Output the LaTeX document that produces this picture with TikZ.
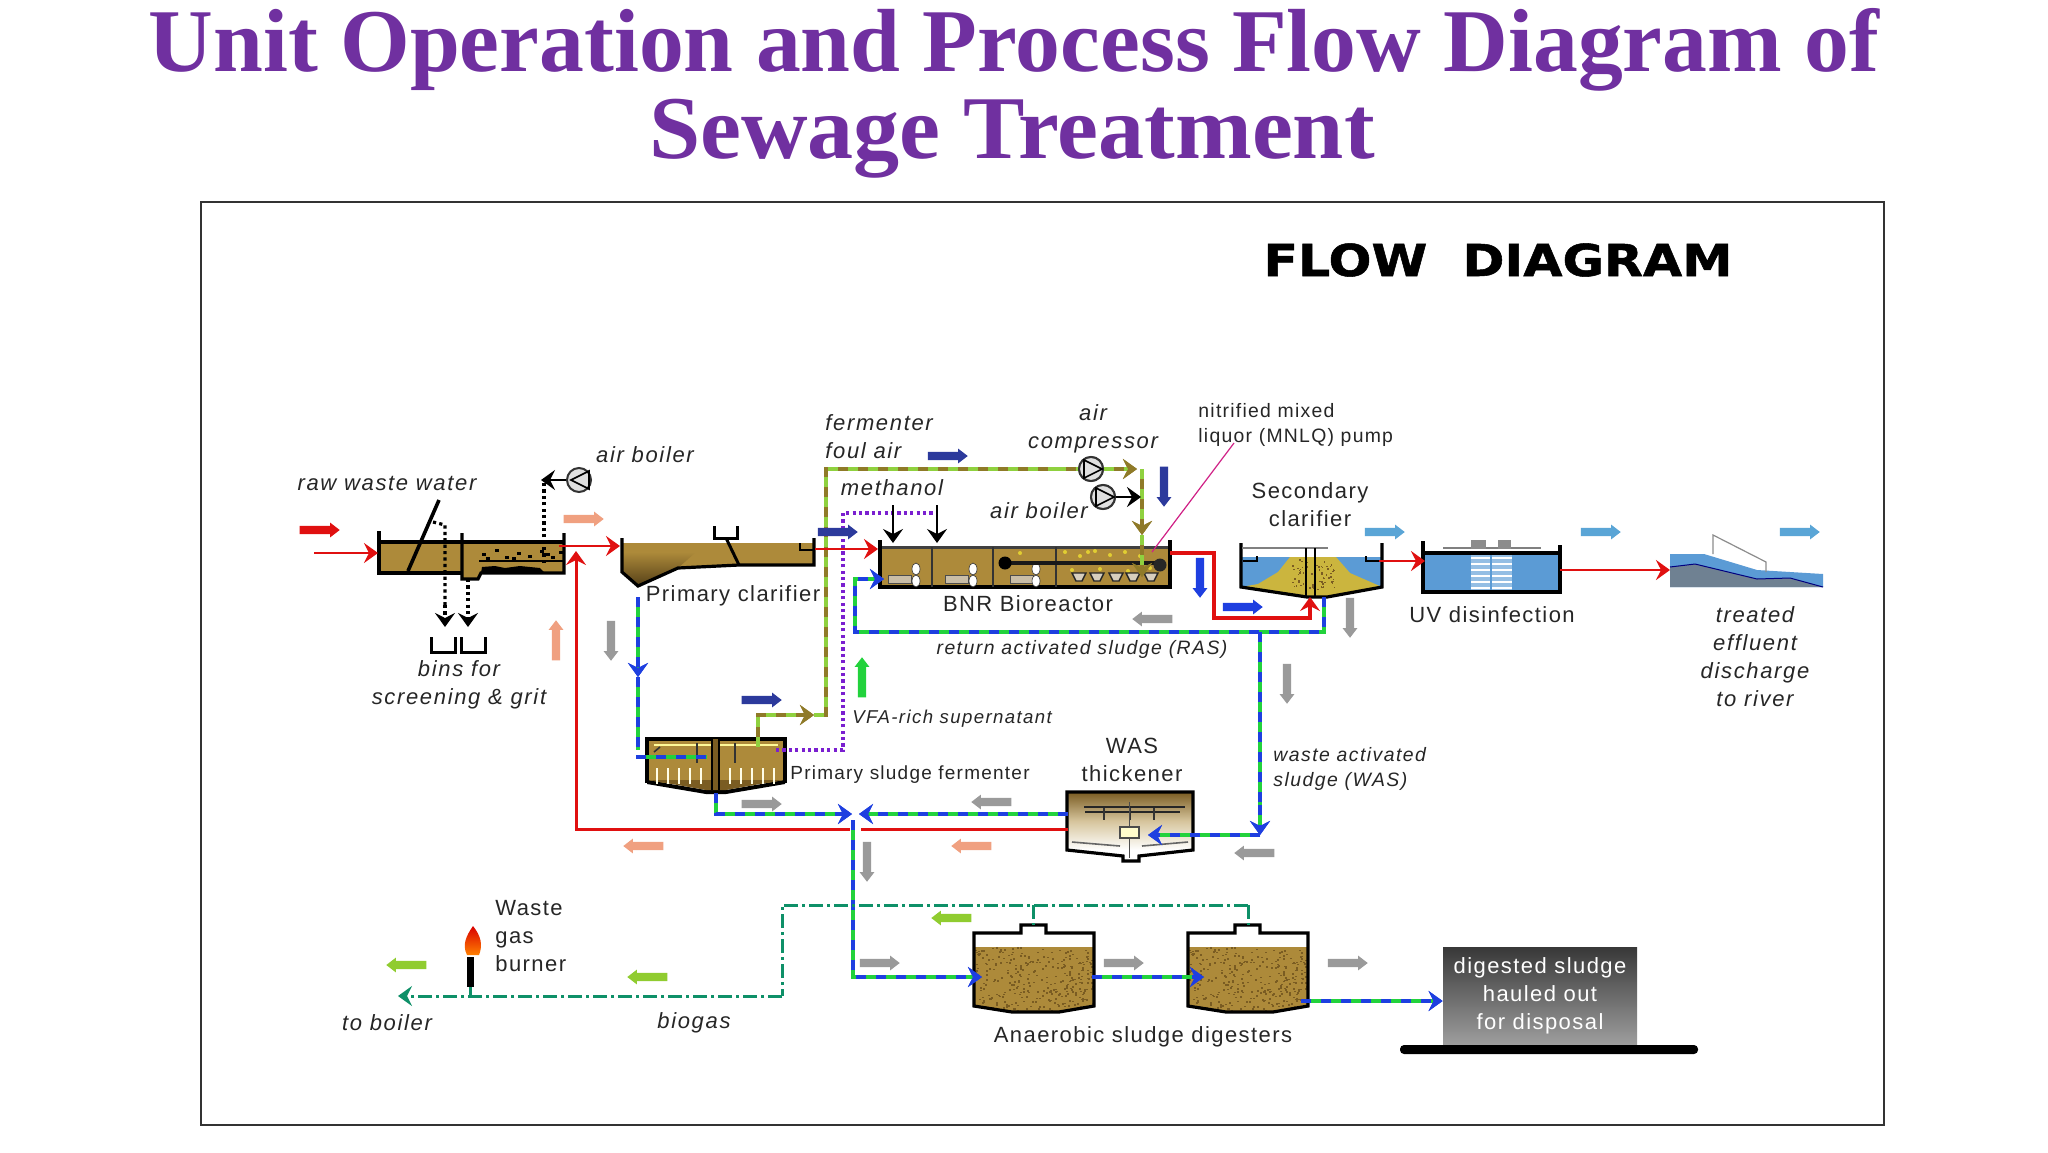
\documentclass[tikz,border=0pt]{standalone}
\usepackage{fontspec}
\usetikzlibrary{arrows.meta,shapes.arrows,shapes.geometric}
\setmainfont{Liberation Sans}
\newfontfamily\lab{Liberation Sans}[LetterSpace=6.5]
\newfontfamily\labi{Liberation Sans Italic}[LetterSpace=7.5]
\newfontfamily\ttl{Liberation Serif}
\newfontfamily\ttlw{Liberation Serif}[FakeStretch=1.028]
\newfontfamily\flw{DejaVu Sans Bold}[FakeStretch=1.15,FakeBold=1.2]
\definecolor{bro}{HTML}{AD8A3A}
\definecolor{brd}{HTML}{7A5C22}
\definecolor{bfl}{HTML}{8F7A28}
\definecolor{lgr}{HTML}{8FD13F}
\definecolor{gre}{HTML}{22D23C}
\definecolor{blu}{HTML}{1E3FE0}
\definecolor{redd}{HTML}{E01010}
\definecolor{sal}{HTML}{F0A080}
\definecolor{nav}{HTML}{2C3A9C}
\definecolor{gry}{HTML}{9A9A9A}
\definecolor{lbl}{HTML}{5AA5D6}
\definecolor{ygr}{HTML}{90CC30}
\definecolor{wat}{HTML}{5B9BD5}
\definecolor{teal}{HTML}{0E9068}
\definecolor{pur}{HTML}{7A1FD0}
\definecolor{ttc}{HTML}{7030A0}
\definecolor{riv}{HTML}{6F8192}
\tikzset{
 tip/.style={-{Stealth[length=7pt,width=10pt,inset=2.5pt,#1]}},
 red line/.style={draw=redd,line width=1.1pt,tip=redd},
 sludge/.style={draw=gre,line width=1.6pt,postaction={draw=blu,dash pattern=on 5pt off 5pt}},
 gas/.style={draw=bfl,line width=1.6pt,postaction={draw=lgr,dash pattern=on 5pt off 5pt}},
 biog/.style={draw=teal,line width=1.5pt,dash pattern=on 7pt off 2pt on 1.5pt off 2pt},
 dots/.style={line width=1.6pt,dash pattern=on 1.6pt off 1.6pt},
 tank/.style={draw=black,line width=1.6pt,line join=miter},
 fa/.style={shape=single arrow,draw=none,inner sep=1.9pt,minimum height=20pt,single arrow head extend=1.6pt,single arrow tip angle=75,shape border rotate=#1},
 lb/.style={font=\lab\fontsize{11}{14}\selectfont,inner sep=0pt,align=center,text=black!85},
 il/.style={font=\labi\fontsize{11}{14}\selectfont,inner sep=0pt,align=center,text=black!85},
 sm/.style={font=\lab\fontsize{9.5}{12.5}\selectfont,inner sep=0pt,align=left,text=black!85},
 ism/.style={font=\labi\fontsize{9.7}{12.5}\selectfont,inner sep=0pt,align=left,text=black!85},
 pump/.style={circle,draw=black!80,fill=black!12,line width=1pt,minimum size=12pt,inner sep=0pt},
}
\begin{document}
\begin{tikzpicture}[x=0.5pt,y=-0.5pt]
\path[use as bounding box,fill=white] (0,0) rectangle (2048,1152);
% title
\node[font=\ttl\bfseries\fontsize{44.8}{44.8}\selectfont,text=ttc,inner sep=0pt] (t1) at (1014,50) {Unit Operation and Process Flow Diagram of};
\node[font=\ttlw\bfseries\fontsize{44.8}{44.8}\selectfont,text=ttc,inner sep=0pt] (t2) at (1012,139) {Sewage Treatment};
\node[draw=black!80,line width=.6pt,minimum width=841.5pt,minimum height=461.5pt,inner sep=0pt] (frame) at (1042.5,663.5) {};
\node[font=\flw\fontsize{22}{22}\selectfont,inner sep=0pt] (fd) at (1498,260) {FLOW\ \ DIAGRAM};

%% coordinates
\coordinate (inA) at (314,553); \coordinate (inB) at (378,553);
\coordinate (t1o) at (559,546); \coordinate (clI) at (620,546);
\coordinate (clO) at (815,549); \coordinate (bnI) at (878,549);
\coordinate (retA) at (1068,829); \coordinate (retB) at (861,829); \coordinate (retC) at (850,829); \coordinate (retD) at (576,829); \coordinate (retE) at (576,551);
\coordinate (mlA) at (1170,553); \coordinate (mlB) at (1214,553); \coordinate (mlC) at (1214,618); \coordinate (mlD) at (1310,618); \coordinate (mlE) at (1310,597);
\coordinate (c2o) at (1379,561); \coordinate (uvI) at (1425,561);
\coordinate (uvO) at (1560,570); \coordinate (rivI) at (1670,570);

%% screen & grit tank
\fill[bro] (379,542) rectangle (564,573);
\fill[bro] (462,573) -- (462,579) -- (478,579) -- (481,573) -- cycle;
\draw[tank] (379,531) -- (379,573) -- (462,573);
\draw[tank] (379,542) -- (564,542);
\draw[tank] (564,533) -- (564,573) -- (481,573) -- (478,579) -- (462,579) -- (462,533);
\draw[line width=1.8pt] (408,571) -- (439,500);
\fill[black] (481,573) -- (482,567) -- (495,566) -- (505,568) -- (520,566) -- (540,568) -- (545,573) -- cycle;
\draw[line width=1.1pt] (479,561) -- (564,561);
\foreach \a/\b in {482/553,495/549,505/556,517/552,528/555,540/550,551/556,559/551,486/557,512/557,546/553}
  \fill[black] (\a,\b) rectangle ++(4,3);
\coordinate (scrA) at (433,522); \coordinate (scrB) at (445,525); \coordinate (scrC) at (445,627);
\coordinate (grA) at (468,579); \coordinate (grB) at (468,627);
\draw[dots] (scrA) -- (scrB) -- (445,605);
\draw[dots,tip=black] (445,605) -- (scrC);
\draw[dots,tip=black] (grA) -- (grB);
\draw[line width=1.5pt] (431,637) -- (431,652) -- (455,652) -- (455,637);
\draw[line width=1.5pt] (461,637) -- (461,652) -- (485,652) -- (485,637);
% air boiler pump 1
\node[pump] (p1) at (579,480) {};
\draw[line width=.8pt] (p1.center) ++(10,-9) -- ++(-18,9) -- ++(18,9) -- cycle;
\coordinate (airA) at (544,563); \coordinate (airB) at (544,482);
\draw[dots] (airA) -- (airB);
\draw[line width=1.2pt,tip=black] (p1.west) -- (541,480);

%% primary clarifier
\fill[bro] (622,543) -- (622,572) -- (638,586) -- (678,568) -- (739,565) -- (814,565) -- (814,543) -- cycle;
\shade[top color=bro,bottom color=brd!70!black] (622,552) -- (622,572) -- (638,586) -- (678,568) -- (696,552) -- cycle;
\draw[tank] (622,538) -- (622,572) -- (638,586) -- (678,568) -- (739,565) -- (814,565) -- (814,538);
\draw[line width=1.5pt] (714,526) -- (714,538) -- (737,538) -- (737,526);
\draw[line width=1.5pt] (726,538) -- (739,565);
\draw[line width=1.2pt] (800,543) -- (800,550) -- (814,550);

%% fermenter
\fill[bro] (647,739) rectangle (785,783);
\fill[black] (647,780) -- (647,784) -- (706,794) -- (726,794) -- (785,784) -- (785,780) -- (726,790) -- (706,790) -- cycle;
\fill[brd] (649,780) -- (706,790) -- (726,790) -- (783,780) -- cycle;
\foreach \a in {657,668,679,690,701,730,741,752,763,774}
  \draw[white!90!yellow,line width=.7pt] (\a,768) -- (\a,784);
\draw[tank] (647,783) -- (647,739) -- (785,739) -- (785,783);
\fill[yellow!40!white] (654,744) rectangle (778,746);
\draw[line width=.8pt,black!80] (654,752) -- (660,747);
\draw[line width=1pt,black!80] (697,743) -- (697,763);
\draw[line width=1pt,black!80] (735,743) -- (735,763);
\fill[brd] (712,739) rectangle (719,790);
\draw[line width=.6pt] (712,739) -- (712,790) (719,739) -- (719,790);

%% BNR bioreactor
\node[fill=bro,minimum width=145pt,minimum height=20pt,inner sep=0pt] (bnr) at (1025,567) {};
\draw[black!75,line width=1.5pt] (880,547) -- (1170,547);
\draw[line width=1.6pt] (880,540) -- (880,587) -- (1170,587) -- (1170,540);
\foreach \a in {932,993,1056} \draw[black!80,line width=.8pt] (\a,547) -- (\a,587);
\foreach \a/\b in {888/916,945/973,1010/1036}{
  \fill[brd!40!white] (\a,575) rectangle ++(23,8);
  \draw[black!70,line width=.4pt] (\a,575) rectangle ++(23,8);
  \fill[white,draw=black!80,line width=.3pt] (\b,569) ellipse [x radius=4,y radius=6];
  \fill[white,draw=black!80,line width=.3pt] (\b,581) ellipse [x radius=4,y radius=6];
}
\foreach \a/\b in {1065/552,1080/556,1095/551,1110/555,1125/552,1140/556,1072/570,1100/569,1128/571,1150/568,1088/552,1020/553}
  \fill[yellow!60!bro] (\a,\b) circle (2);
\draw[black!90,line width=2pt] (1005,563) -- (1160,563);
\fill[black] (1005,563) circle (6.5); \fill[black!85] (1160,565) circle (6.5);
\foreach \a in {1079,1097,1116,1133,1151}{
  \fill[brd!30!white,draw=black!85,line width=.7pt] (\a-7,573) -- (\a+7,573) -- (\a+3,581) -- (\a-3,581) -- cycle;
}

%% secondary clarifier
\fill[wat] (1241,557) -- (1382,557) -- (1382,587) -- (1241,587) -- cycle;
\fill[bro!70!yellow!90!white] (1241,587) -- (1258,584) -- (1278,572) -- (1290,557) -- (1336,557) -- (1350,573) -- (1382,587) -- (1327,597) -- (1307,597) -- cycle;
\pgfmathsetseed{99}
\foreach \i in {1,...,70}{
  \pgfmathsetmacro\xa{1292+rnd*42}\pgfmathsetmacro\ya{559+rnd*30}
  \fill[brd] (\xa,\ya) rectangle ++(1.6,1.4);
}
\draw[tank] (1241,543) -- (1241,587) -- (1307,597) -- (1327,597) -- (1382,587) -- (1382,543);
\draw[black!50,line width=1.2pt] (1242,548) -- (1328,548);
\draw[line width=.9pt] (1306,548) -- (1306,597) (1315,548) -- (1315,597);
\draw[line width=1.2pt] (1243,561) -- (1257,561) -- (1257,556);
\draw[line width=1.2pt] (1382,561) -- (1366,561) -- (1366,556);

%% UV
\node[fill=wat,minimum width=68.5pt,minimum height=19.5pt,inner sep=0pt] (uv) at (1491.5,572.5) {};
\fill[white!35!wat] (1471,555) rectangle (1512,590);
\foreach \b in {558,564,570,576,582,588} \draw[white,line width=.6pt] (1471,\b) -- (1512,\b);
\draw[wat,line width=1pt] (1491,555) -- (1491,590);
\draw[black!50,line width=.8pt] (1443,548) -- (1541,548);
\fill[black!45] (1471,540) rectangle (1486,549); \fill[black!45] (1498,540) rectangle (1511,549);
\draw[tank] (1423,541) -- (1423,592) -- (1560,592) -- (1560,545);
\draw[tank] (1423,553) -- (1560,553);

%% river
\fill[wat] (1670,554) -- (1704,554) -- (1757,570) -- (1823,574) -- (1823,587) -- (1670,587) -- cycle;
\fill[riv] (1670,567) -- (1695,564) -- (1757,579) -- (1790,578) -- (1823,587) -- (1670,587) -- cycle;
\draw[blue!50!black,line width=.5pt] (1670,567) -- (1695,564) -- (1757,579) -- (1790,578) -- (1823,587);
\draw[black!45,line width=.6pt] (1713,554) -- (1713,535) -- (1766,562) -- (1766,572);

%% thickener
\shade[top color=brd,bottom color=white,middle color=bro!50!white] (1067,792) rectangle (1193,850);
\fill[white] (1067,850) -- (1123,860) -- (1139,860) -- (1193,850) -- cycle;
\draw[tank] (1067,792) -- (1193,792) -- (1193,850) -- (1139,856) -- (1139,861) -- (1123,861) -- (1123,856) -- (1067,850) -- cycle;
\draw[black!85,line width=.9pt] (1084,807) -- (1185,807) (1085,812) -- (1180,812);
\foreach \a in {1104,1130,1154} \draw[black!80,line width=1.3pt] (\a,808) -- (\a,820);
\draw[black!70,line width=.5pt] (1129,802) -- (1129,858);
\fill[white!80!yellow,draw=black!70,line width=.7pt] (1120,827) rectangle (1139,838);
\draw[black!60,line width=.8pt] (1072,842) -- (1120,846) (1142,846) -- (1188,842);

%% digesters
\foreach \nm/\dx in {d1/0,d2/214}{
 \begin{scope}[shift={(\dx,0)}]
  \begin{scope}
  \clip (974,947) rectangle (1094,1006) (974,1006) -- (1012,1012) -- (1059,1012) -- (1094,1006) -- cycle;
  \fill[bro] (974,947) rectangle (1094,1012);
  \pgfmathsetseed{4711}
  \foreach \i in {1,...,340}{
    \pgfmathsetmacro\xa{974+rnd*120}\pgfmathsetmacro\ya{947+rnd*66}
    \fill[brd] (\xa,\ya) rectangle ++(2,1.6);
  }
  \end{scope}
  \draw[tank] (974,1006) -- (974,933) -- (1021,933) -- (1021,925) -- (1046,925) -- (1046,933) -- (1094,933) -- (1094,1006) -- (1059,1012) -- (1012,1012) -- cycle;
 \end{scope}
}
\coordinate (d1in) at (982,977); \coordinate (d1o) at (1092,977); \coordinate (d2in) at (1204,977);
\coordinate (d2o) at (1301,1001);
\coordinate (d1g) at (1033,925); \coordinate (d2g) at (1248,925);

%% hauled box
\node[top color=black!78,bottom color=black!38,minimum width=97pt,minimum height=49pt,inner sep=0pt] (box) at (1540,996) {};
\fill[black,rounded corners=2pt] (1400,1045) rectangle (1698,1054);

%% burner
\node[fill=black,minimum width=3.5pt,minimum height=15pt,inner sep=0pt] (burn) at (470.5,972) {};
\shade[top color=red!85!black,bottom color=orange] (473,926) .. controls (481,936) and (483,945) .. (479,955) -- (467,955) .. controls (462,945) and (466,936) .. (473,926) -- cycle;

%% connectors
\coordinate (cl1) at (638,597); \coordinate (cl2) at (638,677); \coordinate (cl3) at (638,750);
\coordinate (fi1) at (636,757); \coordinate (fi2) at (707,757);
\draw[sludge,tip=blu] (cl1) -- (cl2);
\draw[sludge] (cl2) -- (cl3);
\draw[sludge] (fi1) -- (fi2);
\coordinate (fo1) at (716,793); \coordinate (fo2) at (716,814); \coordinate (fo3) at (852,814);
\draw[sludge,tip=blu] (fo1) -- (fo2) -- (fo3);
\coordinate (was1) at (1068,814); \coordinate (was2) at (859,814);
\draw[sludge,tip=blu] (was1) -- (was2);
\coordinate (ds1) at (853,820); \coordinate (ds2) at (853,977);
\draw[sludge,tip=blu] (ds1) -- (ds2) -- (d1in);
\draw[sludge,tip=blu] (d1o) -- (d2in);
\draw[sludge,tip=blu] (d2o) -- (box.west |- d2o);
\coordinate (ras1) at (1324,597); \coordinate (ras2) at (1324,632); \coordinate (ras3) at (855,632); \coordinate (ras4) at (855,579); \coordinate (ras5) at (884,579);
\draw[sludge,tip=blu] (ras1) -- (ras2) -- (ras3) -- (ras4) -- (ras5);
\coordinate (wb1) at (1260,632); \coordinate (wb2) at (1260,835); \coordinate (wb3) at (1148,835);
\draw[sludge] (wb1) -- (1260,805);
\draw[sludge,tip=blu] (1260,805) -- (wb2);
\draw[sludge,tip=blu] (wb2) -- (wb3);

% fermenter foul air
\coordinate (ff1) at (758,747); \coordinate (ff2) at (758,715); \coordinate (ff3) at (814,715); \coordinate (ff4) at (826,715); \coordinate (ff5) at (826,469); \coordinate (ff6) at (1056,469);
\node[pump] (p2) at (1091,469) {};
\node[pump] (p3) at (1103,497) {};
\coordinate (ff7) at (1137,469); \coordinate (ff8) at (1142,469); \coordinate (ff9) at (1142,535); \coordinate (ff10) at (1142,577);
\draw[gas,tip=bfl] (ff1) -- (ff2) -- (ff3);
\draw[gas] (ff3) -- (ff4) -- (ff5) -- (ff6);
\draw[gas] (ff6) -- (p2);
\draw[gas,tip=bfl] (p2) -- (ff7);
\draw[gas,tip=bfl] (ff8) -- (ff9);
\draw[gas,tip=bfl] (ff9) -- (ff10);
\node[pump] at (p2) {};
\node[pump] at (p3) {};
\draw[line width=.8pt] (p2.center) ++(-7,-9) -- ++(18,9) -- ++(-18,9) -- cycle;
\draw[line width=.8pt] (p3.center) ++(-7,-9) -- ++(18,9) -- ++(-18,9) -- cycle;
\coordinate (p3o) at (1141,497);
\draw[line width=1.2pt,tip=black] (p3.east) -- (p3o);

% VFA / methanol
\coordinate (v1) at (776,750); \coordinate (v2) at (843,750); \coordinate (v3) at (843,513); \coordinate (v4) at (936,513);
\draw[dots,draw=pur] (v1) -- (v2) -- (v3) -- (v4);
\coordinate (m1) at (893,505); \coordinate (m2) at (893,543); \coordinate (m3) at (937,505); \coordinate (m4) at (937,543);
\draw[line width=.9pt,tip=black] (m1) -- (m2);
\draw[line width=.9pt,tip=black] (m3) -- (m4);

% red
\draw[red line] (inA) -- (inB);
\draw[red line] (t1o) -- (clI);
\draw[red line] (clO) -- (bnI);
\draw[draw=redd,line width=1.5pt] (retA) -- (retB);
\draw[draw=redd,line width=1.5pt,tip=redd] (retC) -- (retD) -- (retE);
\draw[draw=redd,line width=1.6pt,tip=redd] (mlA) -- (mlB) -- (mlC) -- (mlD) -- (mlE);
\draw[red line] (c2o) -- (uvI);
\draw[draw=redd,line width=1.4pt,tip=redd] (uvO) -- (rivI);

% MNLQ leader
\coordinate (lq1) at (1152,552); \coordinate (lq2) at (1234,443);
\draw[magenta!70!violet,line width=.6pt] (lq1) -- (lq2);

% biogas
\coordinate (g1) at (1248,910); \coordinate (g2) at (1248,905); \coordinate (g3) at (782,905); \coordinate (g4) at (782,996); \coordinate (g5) at (398,996); \coordinate (g6) at (1033,905);
\draw[biog] (g2) -- (g3) -- (g4);
\draw[biog,tip=teal] (g4) -- (g5);
\draw[biog] (g6) -- (d1g);
\draw[biog] (g2) -- (d2g);
\draw[teal,line width=1.2pt] (burn.south) -- (470.5,996);

%% block flow arrows
\foreach \n/\c/\r/\x/\y in {
 a1/redd/0/317/530, a2/sal/0/581/519, a3/sal/90/556/643, a4/gry/270/611/638,
 a5/nav/0/835/532, a6/nav/0/945/456, a7/nav/270/1164/484, a8/blu/270/1200/575,
 a9/blu/0/1240/607, a10/gry/180/1155/619, a11/gry/270/1350/615, a12/gry/270/1287/681,
 a13/lbl/0/1382/532, a14/lbl/0/1598/532, a15/lbl/0/1797/532, a16/nav/0/759/700,
 a17/gre/90/862/680, a18/gry/0/759/804, a19/gry/180/994/802, a20/gry/180/1257/853,
 a21/sal/180/646/846, a22/sal/180/974/846, a23/gry/270/867/859, a24/ygr/180/954/918,
 a25/ygr/180/650/977, a26/ygr/180/409/965, a27/gry/0/877/963, a28/gry/0/1121/963, a29/gry/0/1345/963}
 \node[fa=\r,fill=\c] (\n) at (\x,\y) {};

%% labels
\node[il] (l1) at (387,483) {raw waste water};
\node[il] (l2) at (645,455) {air boiler};
\node[il] (l3) at (459,685) {bins for\\screening \& grit};
\node[lb] (l4) at (733,596) {Primary clarifier};
\node[il,align=left,anchor=west] (l5) at (825,437) {fermenter\\foul air};
\node[il] (l6) at (892,488) {methanol};
\node[il] (l7) at (1093,429) {air\\compressor};
\node[il] (l8) at (1039,511) {air boiler};
\node[font=\lab\fontsize{9.7}{12.5}\selectfont,inner sep=0pt,align=left,text=black!85,anchor=west] (l9) at (1198,425) {nitrified mixed\\liquor (MNLQ) pump};
\node[lb] (l10) at (1310,505) {Secondary\\clarifier};
\node[lb] (l11) at (1028,604) {BNR Bioreactor};
\node[ism,align=center] (l12) at (1082,649) {return activated sludge (RAS)};
\node[lb] (l13) at (1492,615) {UV disinfection};
\node[il] (l14) at (1755,657) {treated\\effluent\\discharge\\to river};
\node[ism,anchor=west] (l15) at (1273,769) {waste activated\\sludge (WAS)};
\node[font=\labi\fontsize{9.3}{12}\selectfont,inner sep=0pt,text=black!85,anchor=west] (l16) at (852,719) {VFA-rich supernatant};
\node[sm,anchor=west] (l17) at (790,775) {Primary sludge fermenter};
\node[lb] (l18) at (1132,760) {WAS\\thickener};
\node[lb,align=left,anchor=west] (l19) at (495,936) {Waste\\gas\\burner};
\node[il] (l20) at (387,1023) {to boiler};
\node[il] (l21) at (694,1023) {biogas};
\node[lb] (l22) at (1143,1037) {Anaerobic sludge digesters};
\node[lb,text=white] (l23) at (box.center) {digested sludge\\hauled out\\for disposal};
\end{tikzpicture}
\end{document}
